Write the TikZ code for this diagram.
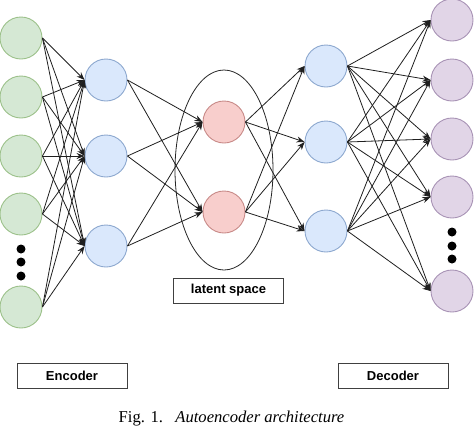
\documentclass[tikz,border=0pt]{standalone}
\usepackage{fontspec}
\setmainfont{Liberation Serif}
\setsansfont{Liberation Sans}
\usetikzlibrary{arrows.meta,shapes.geometric}
\definecolor{gfill}{HTML}{D5E8D4}\definecolor{gline}{HTML}{9CC18A}
\definecolor{bfill}{HTML}{DAE8FC}\definecolor{bline}{HTML}{8DA8CF}
\definecolor{rfill}{HTML}{F8CECC}\definecolor{rline}{HTML}{C88A88}
\definecolor{pfill}{HTML}{E1D5E7}\definecolor{pline}{HTML}{A893B5}
\tikzset{
  neuron/.style={circle,minimum size=42pt,inner sep=0pt,line width=0.9pt},
  gnode/.style={neuron,fill=gfill,draw=gline},
  bnode/.style={neuron,fill=bfill,draw=bline},
  rnode/.style={neuron,fill=rfill,draw=rline},
  pnode/.style={neuron,fill=pfill,draw=pline},
  conn/.style={line width=0.8pt,draw=black!88,-{Stealth[length=8pt,width=6pt]}},
  dotnode/.style={circle,fill=black,minimum size=9pt,inner sep=0pt},
  labelbox/.style={draw=black!75,line width=0.8pt,minimum width=110pt,minimum height=25pt,inner sep=0pt,font=\sffamily\bfseries\fontsize{13}{15}\selectfont},
}
\begin{document}
\begin{tikzpicture}[x=1pt,y=-1pt]
\useasboundingbox (0,0) rectangle (474,429);
% ellipse
\node[ellipse,draw=black!85,line width=0.8pt,minimum width=98pt,minimum height=200pt,inner sep=0pt] (ell) at (224,170) {};
% input
\node[gnode] (g1) at (21,38) {};
\node[gnode] (g2) at (21,97) {};
\node[gnode] (g3) at (21,156) {};
\node[gnode] (g4) at (21,214) {};
\node[gnode] (g5) at (21,307) {};
\node[dotnode] (d1) at (21,249) {};
\node[dotnode] (d2) at (21,262) {};
\node[dotnode] (d3) at (21,276) {};
% encoder
\node[bnode] (e1) at (106,80) {};
\node[bnode] (e2) at (106,156) {};
\node[bnode] (e3) at (106,246) {};
% latent
\node[rnode] (l1) at (224,122) {};
\node[rnode] (l2) at (224,212) {};
% decoder
\node[bnode] (h1) at (326,66) {};
\node[bnode] (h2) at (326,142) {};
\node[bnode] (h3) at (326,231) {};
% output
\node[pnode] (o1) at (452,20) {};
\node[pnode] (o2) at (452,80) {};
\node[pnode] (o3) at (452,139) {};
\node[pnode] (o4) at (452,197) {};
\node[pnode] (o5) at (452,291) {};
\node[dotnode] (q1) at (452,232) {};
\node[dotnode] (q2) at (452,246) {};
\node[dotnode] (q3) at (452,259) {};
% connections
\foreach \s in {g1,g2,g3,g4,g5}{\foreach \t in {e1,e2,e3}{\draw[conn] (\s.east) -- (\t.west);}}
\foreach \s in {e1,e2,e3}{\foreach \t in {l1,l2}{\draw[conn] (\s.east) -- (\t.west);}}
\foreach \s in {l1,l2}{\foreach \t in {h1,h2,h3}{\draw[conn] (\s.east) -- (\t.west);}}
\foreach \s in {h1,h2,h3}{\foreach \t in {o1,o2,o3,o4,o5}{\draw[conn] (\s.east) -- (\t.west);}}
% labels
\node[labelbox] (lat) at (228.5,290.5) {latent space};
\node[labelbox] (enc) at (72,375.5) {Encoder};
\node[labelbox] (dec) at (393,375.5) {Decoder};
\node[anchor=base,font=\fontsize{16.6}{19}\selectfont,inner sep=0pt] (cap) at (231.5,422) {Fig. 1.\hspace{0.75em}\textit{Autoencoder architecture}};
\end{tikzpicture}
\end{document}
